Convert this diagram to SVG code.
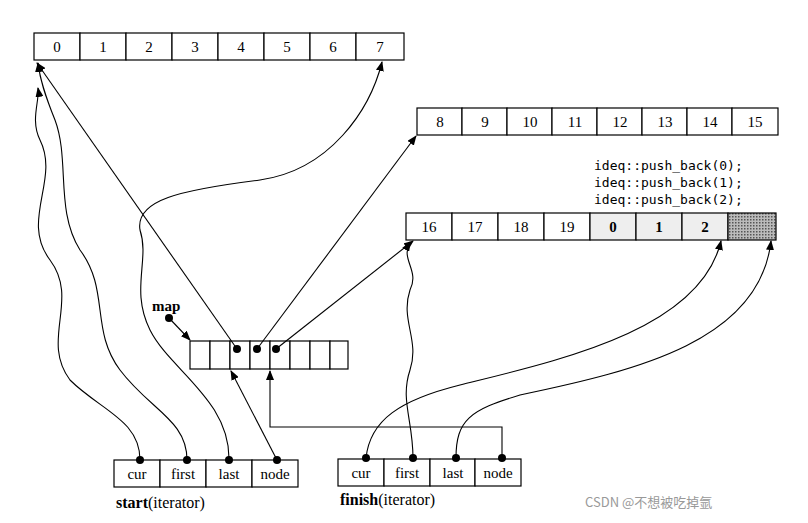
<svg xmlns="http://www.w3.org/2000/svg" width="808" height="523" viewBox="0 0 808 523">
<defs>
<marker id="ah" markerWidth="10" markerHeight="8" refX="9" refY="4" orient="auto" markerUnits="userSpaceOnUse"><path d="M0,0 L10,4 L0,8 Z" fill="#000"/></marker>
<pattern id="hatch" width="3" height="3" patternUnits="userSpaceOnUse"><rect width="3" height="3" fill="#bbb"/><rect width="1.5" height="1.5" fill="#555"/></pattern>
</defs>
<style>
.c{fill:#fff;stroke:#000;stroke-width:1.2}
.g{fill:#eee;stroke:#000;stroke-width:1.2}
.t{font-family:"Liberation Serif",serif;font-size:15px;text-anchor:middle}
.m{font-family:"DejaVu Sans Mono",monospace;font-size:13px}
.l{fill:none;stroke:#000;stroke-width:1.1;marker-end:url(#ah)}
</style>
<rect width="808" height="523" fill="#fff"/>
<g id="arr0">
<rect class="c" x="34" y="33" width="46" height="27"/><rect class="c" x="80" y="33" width="46" height="27"/><rect class="c" x="126" y="33" width="46" height="27"/><rect class="c" x="172" y="33" width="46" height="27"/><rect class="c" x="218" y="33" width="46" height="27"/><rect class="c" x="264" y="33" width="46" height="27"/><rect class="c" x="310" y="33" width="46" height="27"/><rect class="c" x="356" y="33" width="48" height="27"/>
<text class="t" x="57" y="52">0</text><text class="t" x="103" y="52">1</text><text class="t" x="149" y="52">2</text><text class="t" x="195" y="52">3</text><text class="t" x="241" y="52">4</text><text class="t" x="287" y="52">5</text><text class="t" x="333" y="52">6</text><text class="t" x="380" y="52">7</text>
</g>
<g id="arr1">
<rect class="c" x="417" y="108" width="45" height="27"/><rect class="c" x="462" y="108" width="45" height="27"/><rect class="c" x="507" y="108" width="45" height="27"/><rect class="c" x="552" y="108" width="45" height="27"/><rect class="c" x="597" y="108" width="45" height="27"/><rect class="c" x="642" y="108" width="45" height="27"/><rect class="c" x="687" y="108" width="45" height="27"/><rect class="c" x="732" y="108" width="46" height="27"/>
<text class="t" x="440" y="127">8</text><text class="t" x="485" y="127">9</text><text class="t" x="530" y="127">10</text><text class="t" x="575" y="127">11</text><text class="t" x="620" y="127">12</text><text class="t" x="665" y="127">13</text><text class="t" x="710" y="127">14</text><text class="t" x="755" y="127">15</text>
</g>
<g id="code">
<text class="m" x="594" y="170">ideq::push_back(0);</text>
<text class="m" x="594" y="187">ideq::push_back(1);</text>
<text class="m" x="594" y="204">ideq::push_back(2);</text>
</g>
<g id="arr2">
<rect class="c" x="406" y="213" width="46" height="27"/><rect class="c" x="452" y="213" width="46" height="27"/><rect class="c" x="498" y="213" width="46" height="27"/><rect class="c" x="544" y="213" width="46" height="27"/><rect class="g" x="590" y="213" width="46" height="27"/><rect class="g" x="636" y="213" width="46" height="27"/><rect class="g" x="682" y="213" width="46" height="27"/><rect x="728" y="213" width="48" height="27" fill="url(#hatch)" stroke="#000" stroke-width="1.2"/>
<text class="t" x="429" y="232">16</text><text class="t" x="475" y="232">17</text><text class="t" x="521" y="232">18</text><text class="t" x="567" y="232">19</text><text class="t" x="613" y="232" font-weight="bold">0</text><text class="t" x="659" y="232" font-weight="bold">1</text><text class="t" x="705" y="232" font-weight="bold">2</text>
</g>
<g id="map">
<rect class="c" x="190" y="341" width="20" height="28"/><rect class="c" x="210" y="341" width="20" height="28"/><rect class="c" x="230" y="341" width="20" height="28"/><rect class="c" x="250" y="341" width="20" height="28"/><rect class="c" x="270" y="341" width="20" height="28"/><rect class="c" x="290" y="341" width="20" height="28"/><rect class="c" x="310" y="341" width="20" height="28"/><rect class="c" x="330" y="341" width="18" height="28"/>
<text x="152" y="311" font-family="Liberation Serif,serif" font-size="15" font-weight="bold">map</text>
<circle cx="169" cy="318" r="4"/><circle cx="237" cy="349" r="4"/><circle cx="257" cy="349" r="4"/><circle cx="276" cy="349" r="4"/>
</g>
<g id="start">
<rect class="c" x="114" y="460" width="46" height="27"/><rect class="c" x="160" y="460" width="46" height="27"/><rect class="c" x="206" y="460" width="46" height="27"/><rect class="c" x="252" y="460" width="46" height="27"/>
<text class="t" x="137" y="479">cur</text><text class="t" x="183" y="479">first</text><text class="t" x="229" y="479">last</text><text class="t" x="275" y="479">node</text>
<circle cx="140" cy="460" r="4"/><circle cx="187" cy="460" r="4"/><circle cx="229" cy="460" r="4"/><circle cx="277" cy="460" r="4"/>
<text x="116" y="508" font-family="Liberation Serif,serif" font-size="16"><tspan font-weight="bold">start</tspan>(iterator)</text>
</g>
<g id="finish">
<rect class="c" x="338" y="459" width="46" height="27"/><rect class="c" x="384" y="459" width="46" height="27"/><rect class="c" x="430" y="459" width="45" height="27"/><rect class="c" x="475" y="459" width="46" height="27"/>
<text class="t" x="361" y="478">cur</text><text class="t" x="407" y="478">first</text><text class="t" x="453" y="478">last</text><text class="t" x="498" y="478">node</text>
<circle cx="366" cy="458" r="4"/><circle cx="413" cy="458" r="4"/><circle cx="456" cy="458" r="4"/><circle cx="502" cy="458" r="4"/>
<text x="340" y="505" font-family="Liberation Serif,serif" font-size="16"><tspan font-weight="bold">finish</tspan>(iterator)</text>
</g>
<g id="connectors">
<path class="l" d="M169,318 L190,340"/>
<path class="l" d="M237,349 L37,63"/>
<path class="l" d="M257,349 L416,136"/>
<path class="l" d="M276,349 L413,241"/>
<path class="l" d="M277,460 L231,371"/>
<path class="l" d="M502,458 L502,427 L270,427 L270,371"/>
<path class="l" d="M140,460 C140,420 100,410 70,380 C40,340 80,300 50,260 C20,220 60,180 40,140 C30,120 40,100 38,88"/>
<path class="l" d="M187,460 C187,420 150,410 120,370 C90,330 110,290 80,250 C55,210 70,160 55,120 C45,95 40,80 38,63"/>
<path class="l" d="M229,460 C230,400 170,370 150,330 C130,290 150,260 140,230 C135,200 180,190 260,180 C330,170 370,110 382,62"/>
<path class="l" d="M366,458 C370,420 400,400 460,385 C560,360 700,330 721,241"/>
<path class="l" d="M413,458 C413,420 400,400 410,370 C420,340 400,320 410,290 C420,270 400,260 410,242"/>
<path class="l" d="M456,458 C456,420 470,410 520,395 C640,370 760,340 771,241"/>
</g>
<text x="585" y="507" font-family="Noto Sans CJK SC,sans-serif" font-size="13" fill="#999">CSDN @不想被吃掉氩</text>
</svg>
